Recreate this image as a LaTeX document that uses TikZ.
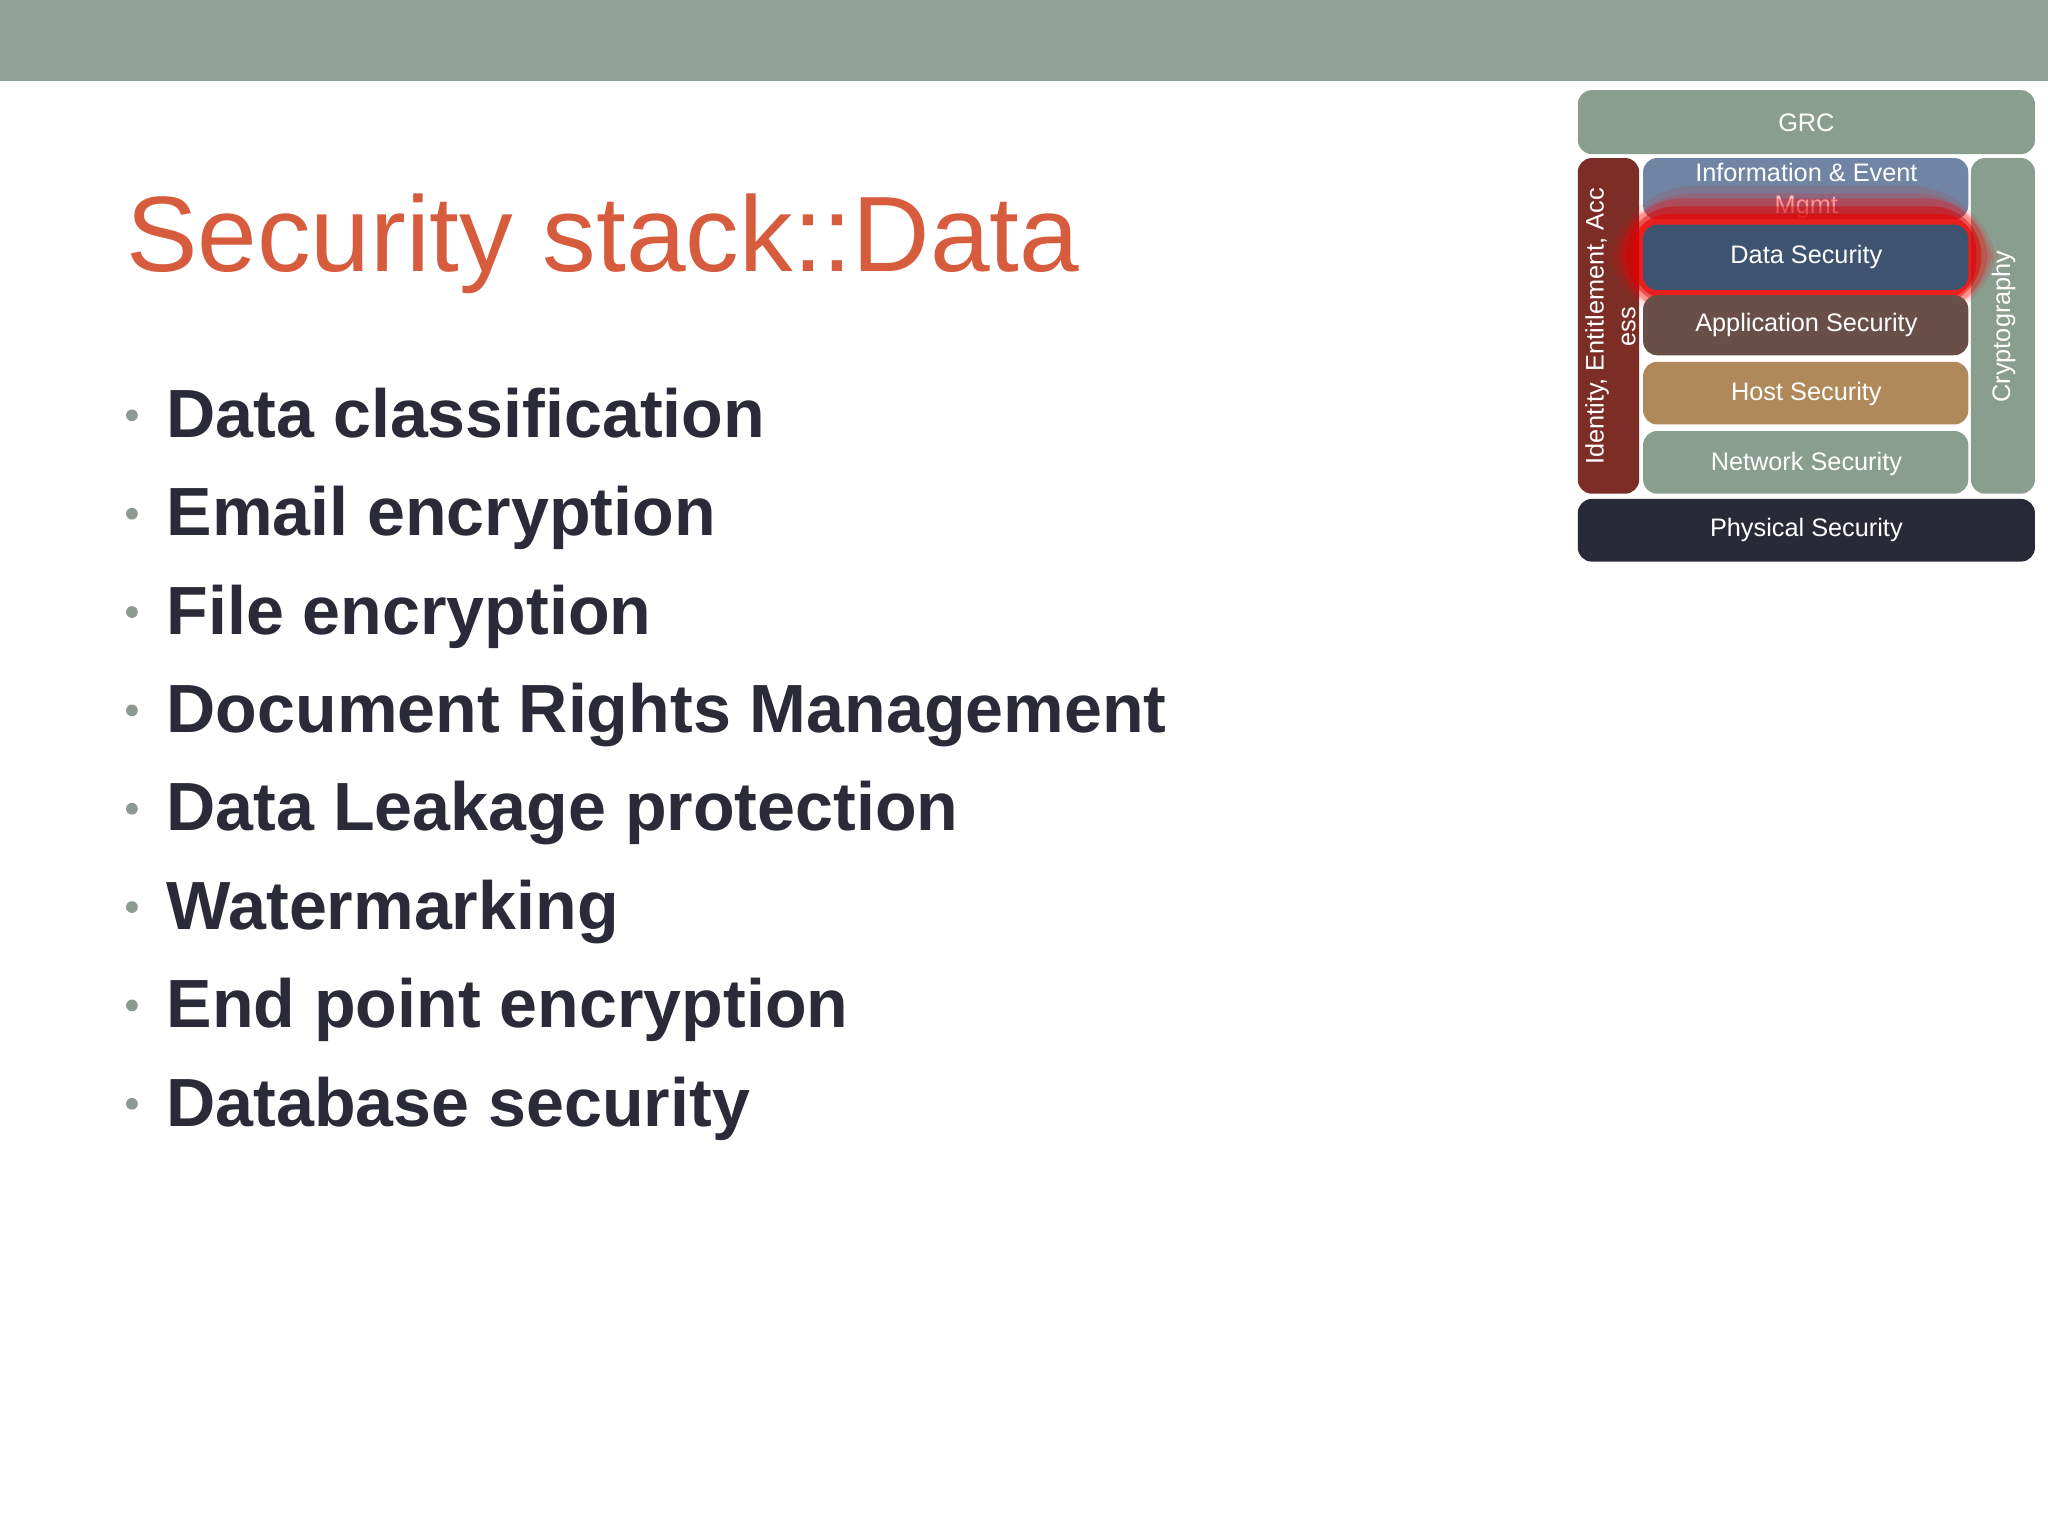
\documentclass[tikz,border=0pt]{standalone}
\usepackage{fontspec}
\setmainfont{Liberation Sans}
\begin{document}
\begin{tikzpicture}[x=0.013061cm,y=-0.013061cm,
  stxt/.style={text=white,font=\fontsize{7.2}{9}\selectfont},
  bul/.style={anchor=base west,text=textc,font=\fontsize{19.4}{24}\selectfont\bfseries}]
\definecolor{barc}{HTML}{90A197}
\definecolor{titlec}{HTML}{D75C3E}
\definecolor{textc}{HTML}{2A2A38}
\definecolor{dotc}{HTML}{8C9A92}
\definecolor{grcc}{HTML}{8A9E90}
\definecolor{idc}{HTML}{7C2E26}
\definecolor{infoc}{HTML}{7085A3}
\definecolor{datac}{HTML}{3E5370}
\definecolor{appc}{HTML}{6A4F49}
\definecolor{hostc}{HTML}{B0895A}
\definecolor{physc}{HTML}{282A38}
\useasboundingbox (0,0) rectangle (1568,1176);
\fill[white] (0,0) rectangle (1568,1176);
\fill[barc] (0,0) rectangle (1568,62);
\node[anchor=base west,inner sep=0pt,text=titlec,font=\fontsize{30.5}{36}\selectfont] (title) at (96,208) {Security stack::Data};
\foreach \t [count=\i] in {Data classification,Email encryption,File encryption,Document Rights Management,Data Leakage protection,Watermarking,End point encryption,Database security}{
  \pgfmathsetmacro{\yy}{335+75.3*(\i-1)}
  \fill[dotc] (101,\yy-17) circle (4.5);
  \node[bul,inner sep=0pt] (b\i) at (127,\yy) {\t};
}
% stack
\fill[grcc,rounded corners=4pt] (1208,69) rectangle (1558,118);
\node[stxt] (grc) at (1383,94) {GRC};
\fill[idc,rounded corners=4pt] (1208,121) rectangle (1255,378);
\node[stxt,rotate=90,align=center] (id) at (1233,250) {Identity, Entitlement, Acc\\ess};
\fill[grcc,rounded corners=4pt] (1509,121) rectangle (1558,378);
\node[stxt,rotate=90] (cry) at (1534,250) {Cryptography};
\fill[infoc,rounded corners=4pt] (1258,121) rectangle (1507,168);
\node[stxt,align=center] (info) at (1383,146) {Information \& Event\\Mgmt};
% glow
\fill[red,opacity=0.10,rounded corners=26pt] (1230,142) rectangle (1530,250);
\fill[red,opacity=0.15,rounded corners=22pt] (1236,148) rectangle (1526,244);
\fill[red,opacity=0.25,rounded corners=18pt] (1240,152) rectangle (1522,240);
\fill[red!85!black,opacity=0.45,rounded corners=14pt] (1245,158) rectangle (1517,234);
\fill[red!90!black,opacity=0.6,rounded corners=10pt] (1250,164) rectangle (1513,229);
\fill[datac,rounded corners=4pt] (1258,172) rectangle (1507,222);
\node[stxt] (data) at (1383,197) {Data Security};
\fill[appc,rounded corners=4pt] (1258,226) rectangle (1507,272);
\node[stxt] (app) at (1383,249) {Application Security};
\fill[hostc,rounded corners=4pt] (1258,277) rectangle (1507,325);
\node[stxt] (host) at (1383,302) {Host Security};
\fill[grcc,rounded corners=4pt] (1258,330) rectangle (1507,378);
\node[stxt] (net) at (1383,355) {Network Security};
\fill[physc,rounded corners=4pt] (1208,382) rectangle (1558,430);
\node[stxt] (phys) at (1383,406) {Physical Security};
\end{tikzpicture}
\end{document}
